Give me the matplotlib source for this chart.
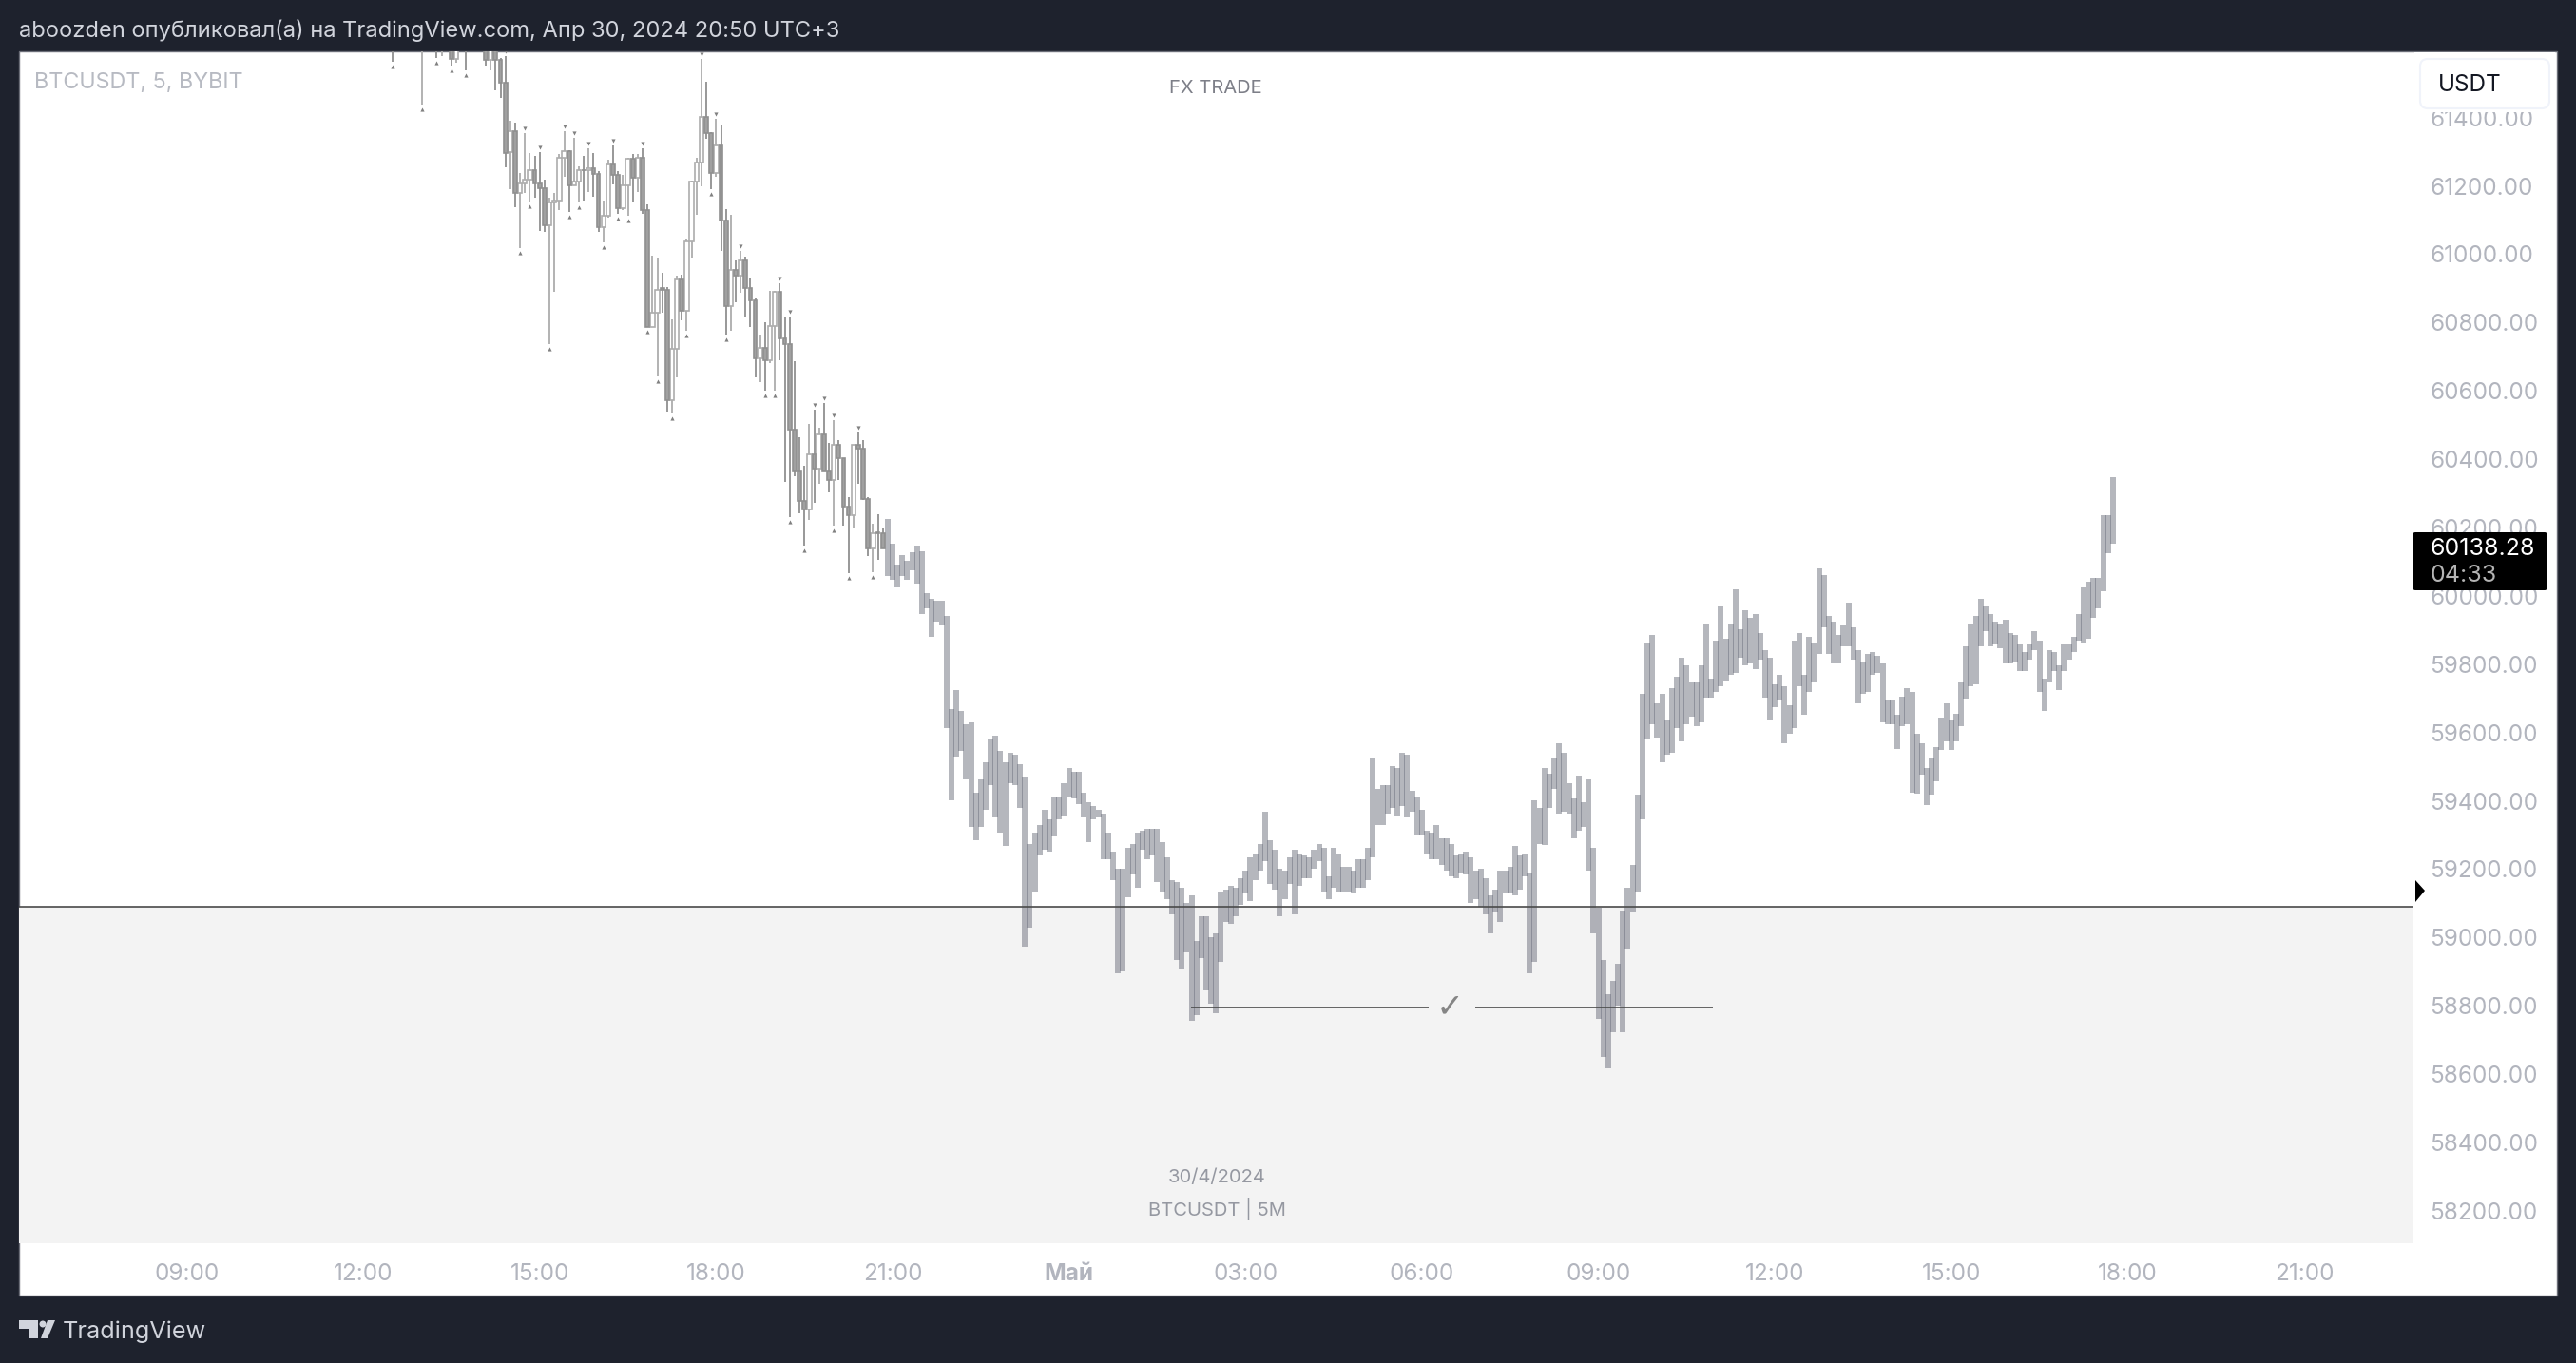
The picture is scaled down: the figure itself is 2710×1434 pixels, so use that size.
import numpy as np
import matplotlib
matplotlib.use("Agg")
import matplotlib.pyplot as plt
from matplotlib.patches import Rectangle, FancyBboxPatch, Polygon
from matplotlib.transforms import Affine2D

plt.rcParams['font.family'] = ['Inter', 'DejaVu Sans']

# ---------- data ----------
candle_index = [42, 48, 51, 52, 54, 55, 57] + list(range(61, 143))
candle_open = [61660,61620,61650,61620,61640,61571,61660,
 61630,61568,61625,61568,61501,61299,61360,61179,61208,61219,61247,61208,61193,61084,61153,61158,61281,61303,61201,
 61214,61247,61245,61253,61234,61080,61114,61264,61232,61134,61201,61279,61223,61283,61129,60787,60828,60900,60895,60572,
 60723,60927,60834,61038,61214,61268,61401,61354,61237,61318,61098,60849,60953,60936,60982,60900,60865,60695,60727,60691,
 60790,60889,60753,60737,60487,60365,60279,60253,60415,60372,60474,60365,60338,60442,60402,60261,60237,60442,60431,60283,
 60138,60186,60184]
candle_close = [61640,61660,61620,61640,61571,61630,61640,
 61568,61620,61568,61501,61297,61360,61179,61208,61219,61247,61208,61193,61084,61153,61158,61281,61303,61201,61214,
 61245,61245,61253,61234,61080,61114,61264,61232,61134,61201,61279,61223,61283,61129,60787,60828,60897,60897,60572,60723,
 60927,60834,61037,61214,61268,61401,61354,61237,61318,61098,60849,60953,60936,60982,60900,60865,60695,60727,60691,60790,
 60889,60753,60737,60487,60365,60279,60253,60415,60372,60474,60365,60338,60442,60402,60261,60237,60442,60431,60283,60138,
 60184,60184,60138]
candle_high = [61680,61690,61670,61660,61660,61650,61680,
 61650,61640,61640,61574,61580,61390,61385,61237,61356,61295,61288,61299,61219,61166,61180,61293,61360,61305,61342,
 61258,61288,61311,61295,61244,61156,61277,61318,61244,61232,61281,61293,61293,61311,61145,60995,60990,60945,60904,60810,
 60938,60941,61047,61216,61283,61571,61504,61358,61397,61379,61131,61115,60982,61011,60993,60932,60872,60766,60801,60892,
 60892,60915,60815,60817,60687,60464,60381,60503,60546,60492,60564,60447,60514,60455,60402,60290,60442,60479,60455,60290,
 60212,60240,60200]
candle_low = [61564,61438,61574,61579,61552,61560,61538,
 61552,61538,61481,61459,61255,61191,61138,61017,61179,61155,61166,61069,61064,60736,60889,61130,61228,61123,61201,
 61153,61158,61181,61169,61064,61034,61108,61205,61119,61130,61112,61153,61181,61119,60786,60787,60643,60828,60539,60534,
 60641,60808,60775,60991,61116,61200,61339,61190,61227,61011,60766,60775,60860,60886,60817,60787,60641,60625,60602,60681,
 60602,60691,60333,60232,60351,60242,60148,60223,60272,60327,60365,60304,60205,60338,60205,60067,60197,60327,60282,60117,
 60069,60106,60138]
fractal_high_index = [65, 69, 72, 77, 79, 82, 87, 93, 105, 108, 113, 121, 123, 128, 130, 132, 137]
fractal_low_index = [42, 48, 51, 54, 57, 68, 70, 74, 78, 80, 85, 88, 90, 94, 96, 99, 102, 107,
                     110, 118, 120, 123, 126, 132, 135, 140]

first_range_bar = 143
range_high = [60226,60153,60092,60120,60104,60128,60146,
 60130,60008,59991,59986,59986,59941,59669,59724,59663,59624,59630,59424,59463,59513,59580,59591,59546,59513,59541,
 59535,59507,59468,59274,59307,59329,59374,59346,59413,59413,59452,59496,59485,59485,59424,59396,59385,59374,59363,59307,
 59251,59201,59201,59262,59274,59307,59313,59318,59318,59318,59279,59235,59168,59162,59146,59101,59124,58990,59062,59062,
 59001,59012,59135,59140,59151,59146,59174,59196,59235,59246,59274,59368,59285,59257,59201,59196,59235,59257,59246,59240,
 59235,59257,59274,59262,59179,59262,59246,59207,59207,59196,59229,59229,59263,59524,59435,59446,59446,59502,59496,59541,
 59535,59430,59413,59374,59313,59307,59329,59290,59290,59274,59240,59246,59252,59235,59196,59201,59174,59124,59140,59196,
 59196,59207,59268,59240,59246,59190,59402,59380,59496,59480,59524,59569,59541,59452,59407,59474,59396,59463,59263,59087,
 58935,58834,58873,58923,59079,59146,59213,59418,59713,59863,59886,59685,59713,59635,59730,59763,59819,59797,59747,59747,
 59797,59919,59758,59869,59969,59875,59919,60019,59902,59958,59936,59947,59891,59841,59819,59741,59769,59735,59680,59869,
 59891,59769,59880,59863,60081,60060,59941,59925,59886,59913,59980,59908,59841,59808,59830,59836,59825,59802,59697,59697,
 59652,59706,59730,59718,59595,59569,59496,59525,59558,59645,59685,59636,59654,59747,59853,59919,59942,59992,59969,59947,
 59925,59919,59930,59892,59886,59858,59836,59858,59897,59869,59758,59841,59836,59797,59858,59858,59880,59947,60025,60042,
 60053,60053,60236,60236,60348]
range_low = [60059,60048,60025,60059,60048,60075,60036,
 59947,59963,59880,59924,59913,59613,59402,59530,59546,59463,59324,59285,59324,59374,59446,59351,59307,59268,59452,
 59446,59379,58973,59029,59135,59240,59257,59251,59296,59346,59357,59413,59407,59390,59351,59279,59346,59351,59229,59229,
 59168,58895,58901,59118,59185,59146,59257,59229,59240,59162,59135,59112,59068,58934,58907,58957,58757,58773,58940,58845,
 58806,58779,58929,59046,59040,59062,59096,59129,59107,59168,59196,59224,59157,59140,59062,59112,59157,59068,59151,59174,
 59174,59201,59224,59135,59112,59146,59135,59135,59135,59129,59146,59146,59168,59235,59329,59329,59363,59380,59357,59385,
 59352,59368,59302,59302,59246,59229,59229,59213,59196,59179,59174,59190,59185,59101,59113,59090,59068,59012,59074,59046,
 59129,59129,59124,59140,59179,58896,58929,59274,59270,59380,59435,59363,59368,59363,59290,59313,59324,59196,59012,58762,
 58651,58617,58723,58801,58723,58968,59074,59135,59346,59580,59624,59585,59513,59535,59541,59613,59574,59624,59647,59619,
 59630,59702,59702,59719,59735,59752,59769,59774,59819,59797,59802,59786,59813,59702,59635,59674,59697,59569,59596,59613,
 59735,59652,59719,59747,59830,59908,59830,59802,59802,59852,59852,59813,59685,59713,59719,59769,59774,59630,59624,59624,
 59553,59619,59624,59425,59420,59478,59387,59419,59458,59548,59575,59548,59575,59619,59698,59736,59741,59853,59897,59853,
 59858,59847,59803,59803,59808,59780,59780,59814,59841,59719,59663,59747,59780,59725,59780,59814,59836,59869,59864,59875,
 59936,59964,60014,60125,60153]

support_level = 59090
sweep_level = 58796
sweep_segments = [(204.9, 253.4), (262.8, 311.3)]
check_position = 257.8
last_price = "60138.28"
countdown = "04:33"

price_ticks = list(range(58200, 61401, 200))
time_tick_index = list(range(0, 433, 36))
time_tick_labels = ["09:00", "12:00", "15:00", "18:00", "21:00", "Май", "03:00",
                    "06:00", "09:00", "12:00", "15:00", "18:00", "21:00"]

# ---------- colours ----------
DARK = "#1e222d"
AXIS_TXT = "#b2b5be"
UP_C = "#adadad"
DN_C = "#909090"
DN_F = "#a0a0a0"
RANGE_C = (105/255, 108/255, 122/255, 0.49)
LINE_C = "#4a4a4a"

W, H = 2710, 1434
fig = plt.figure(figsize=(W/100, H/100), dpi=100, facecolor=DARK)
px = Affine2D().scale(1/W, -1/H).translate(0, 1) + fig.transFigure

# pane
fig.add_artist(Rectangle((20, 54), 2670, 1309, transform=px, facecolor="white",
                         edgecolor="#6b6e78", linewidth=1, zorder=-1))

L, R, T, B = 20, 2538, 54, 1308
ax = fig.add_axes([L/W, 1-B/H, (R-L)/W, (B-T)/H], facecolor="none")
ax.set_xlim(-34.23, 454.1)
ax.set_ylim(58105, 61594)
for s in ax.spines.values():
    s.set_visible(False)

ax.axhspan(58105, support_level, color="#f3f3f3", lw=0, zorder=0)

# candles
ci = np.array(candle_index)
co, cc, ch, cl = map(np.array, (candle_open, candle_close, candle_high, candle_low))
up = cc >= co
ax.vlines(ci[up], cl[up], ch[up], color=UP_C, lw=1.3, zorder=2)
ax.vlines(ci[~up], cl[~up], ch[~up], color=DN_C, lw=1.3, zorder=2)
ax.bar(ci[up], (cc-co)[up], bottom=co[up], width=0.85, facecolor="white",
       edgecolor=UP_C, linewidth=1.2, zorder=3)
ax.bar(ci[~up], (cc-co)[~up], bottom=co[~up], width=0.72, facecolor=DN_F,
       edgecolor=DN_C, linewidth=1.2, zorder=4)

hi_map = dict(zip(candle_index, candle_high))
lo_map = dict(zip(candle_index, candle_low))
ax.plot(fractal_high_index, [hi_map[i]+14 for i in fractal_high_index], ls="none",
        marker="v", ms=3, mew=0, color="#808080", zorder=5)
ax.plot(fractal_low_index, [lo_map[i]-14 for i in fractal_low_index], ls="none",
        marker="^", ms=3, mew=0, color="#808080", zorder=5)

# range bars
rh, rl = np.array(range_high), np.array(range_low)
ri = np.arange(first_range_bar, first_range_bar+len(rh))
ax.bar(ri, rh-rl, bottom=rl, width=1.164, color=RANGE_C, linewidth=0, zorder=3, antialiased=False)

# levels
ax.axhline(support_level, color=LINE_C, lw=1.2, zorder=6)
for a, b in sweep_segments:
    ax.plot([a, b], [sweep_level, sweep_level], color=LINE_C, lw=1.2, zorder=6,
            solid_capstyle="butt")
ax.text(check_position, sweep_level, "✓", family="DejaVu Sans", fontsize=25, color="#858585",
        ha="center", va="center", zorder=6)

# axes ticks
ax.yaxis.tick_right()
ax.set_yticks(price_ticks)
ax.set_yticklabels([f"{p}.00" for p in price_ticks], color=AXIS_TXT, fontsize=17.5, ha="left")
ax.set_xticks(time_tick_index)
ax.set_xticklabels(time_tick_labels, color=AXIS_TXT, fontsize=17.5)
ax.tick_params(axis="y", length=0, pad=13)
ax.tick_params(axis="x", length=0, pad=15)
for lab, txt in zip(ax.get_xticklabels(), time_tick_labels):
    if txt == "Май":
        lab.set_fontweight("bold")

# texts
def T_(x, y, s, **k):
    k.setdefault("va", "center")
    fig.text(x, y, s, transform=px, zorder=7, **k)

T_(20, 32, "aboozden опубликовал(а) на TradingView.com, Апр 30, 2024 20:50 UTC+3",
   color="#d1d4dc", fontsize=17.05)
T_(36, 87, "BTCUSDT, 5, BYBIT", color="#b7bac2", fontsize=16.8)
T_(1279, 93, "FX TRADE", color="#7d7f88", fontsize=14.5, ha="center")
T_(1280, 1239, "30/4/2024", color="#9598a1", fontsize=14.5, ha="center")
T_(1280, 1272, "BTCUSDT | 5M", color="#9598a1", fontsize=14.5, ha="center")

# top-right mask + USDT selector
fig.add_artist(Rectangle((2540, 55), 148, 63, transform=px, facecolor="white",
                         edgecolor="none", zorder=4))
fig.add_artist(FancyBboxPatch((2552, 68), 124, 40, boxstyle="round,pad=6,rounding_size=8",
                              transform=px, facecolor="white", edgecolor="#f0f3fa",
                              linewidth=1.5, zorder=5))
T_(2565, 89, "USDT", color="#131722", fontsize=17.5)

# last-price tag
fig.add_artist(FancyBboxPatch((2540, 562), 138, 57, boxstyle="round,pad=2,rounding_size=3",
                              transform=px, facecolor="black", edgecolor="black",
                              linewidth=0, zorder=5))
T_(2557, 578, last_price, color="white", fontsize=18)
T_(2557, 606, countdown, color="#b4b4b4", fontsize=18)

# arrow at axis
fig.add_artist(Polygon([(2541, 926), (2551, 937), (2541, 949)], transform=px,
                       facecolor="black", edgecolor="none", zorder=7))

# footer logo
for pts in ([(20, 1389), (40, 1389), (40, 1408), (30, 1408), (30, 1398), (20, 1398)],
            [(43, 1408), (50, 1389), (58, 1389), (50, 1408)]):
    fig.add_artist(Polygon(pts, transform=px, facecolor="#d1d4dc", edgecolor="none", zorder=7))
fig.add_artist(plt.Circle((45, 1393), 3.5, transform=px, facecolor="#d1d4dc", edgecolor="none", zorder=7))
T_(66, 1401, "TradingView", color="#d1d4dc", fontsize=18.2)

fig.savefig("out.png", dpi=100, facecolor=DARK)
